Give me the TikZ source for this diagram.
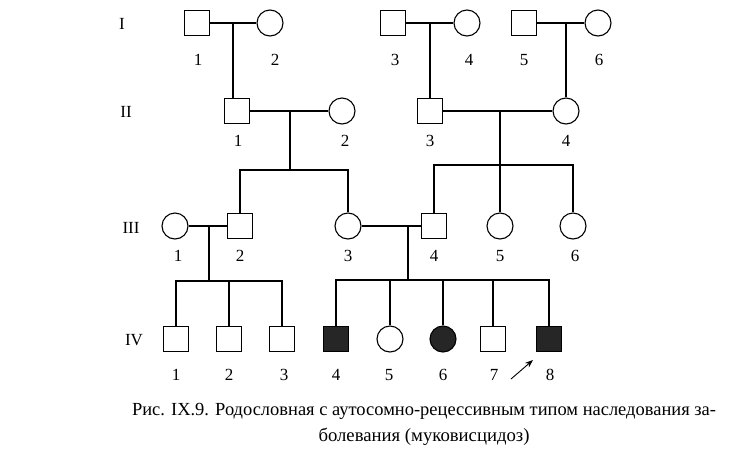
\documentclass[tikz,border=0pt]{standalone}
\usepackage{fontspec}
\usetikzlibrary{arrows.meta}
\setmainfont{Liberation Serif}
\begin{document}
\begin{tikzpicture}[x=1pt,y=-1pt,line width=1.1pt,
  m/.style={draw,minimum size=25pt,inner sep=0pt},
  f/.style={draw,circle,minimum size=26pt,inner sep=0pt},
  a/.style={fill=black!85},
  lb/.style={font=\fontsize{17}{17}\selectfont,inner sep=0pt},
  gl/.style={font=\fontsize{17}{17}\selectfont,inner sep=0pt}]
\useasboundingbox[fill=white] (0,0) rectangle (736,456);
% generation labels
\node[gl] (gI) at (122,24) {I};
\node[gl] (gII) at (126,112) {II};
\node[gl] (gIII) at (131,228) {III};
\node[gl] (gIV) at (134,340) {IV};
% Gen I
\node[m] (i1) at (197,23) {}; \node[f] (i2) at (270,23) {};
\node[m] (i3) at (393,23) {}; \node[f] (i4) at (467,23) {};
\node[m] (i5) at (524,23) {}; \node[f] (i6) at (598,23) {};
\foreach \n/\x in {1/198,2/275,3/395,4/469,5/524,6/599}
  \node[lb] (li\n) at (\x,60) {\n};
% Gen II
\node[m] (ii1) at (237,111) {}; \node[f] (ii2) at (342,111) {};
\node[m] (ii3) at (430,111) {}; \node[f] (ii4) at (566,111) {};
\node[lb] (lii1) at (238,141) {1}; \node[lb] (lii2) at (345,141) {2};
\node[lb] (lii3) at (430,141) {3}; \node[lb] (lii4) at (566,141) {4};
% Gen III
\node[f] (iii1) at (175,226) {}; \node[m] (iii2) at (240,226) {};
\node[f] (iii3) at (348,226) {}; \node[m] (iii4) at (434,226) {};
\node[f] (iii5) at (500,226) {}; \node[f] (iii6) at (573,226) {};
\foreach \n/\x in {1/178,2/240,3/348,4/434,5/500,6/575}
  \node[lb] (liii\n) at (\x,256) {\n};
% Gen IV
\node[m] (iv1) at (176,339) {}; \node[m] (iv2) at (229,339) {};
\node[m] (iv3) at (282,339) {}; \node[m,a] (iv4) at (336,339) {};
\node[f] (iv5) at (390,339) {}; \node[f,a] (iv6) at (443,339) {};
\node[m] (iv7) at (493,339) {}; \node[m,a] (iv8) at (549,339) {};
\foreach \n/\x in {1/176,2/229,3/284,4/336,5/389,6/443,7/494,8/550}
  \node[lb] (liv\n) at (\x,375) {\n};
% matings and lines
\coordinate (c1) at (233,23); \coordinate (c2) at (430,23); \coordinate (c3) at (566,23);
\draw (i1) -- (i2); \draw (i3) -- (i4); \draw (i5) -- (i6);
\draw (c1) -- (ii1.north -| c1); \draw (c2) -- (ii3); \draw (c3) -- (ii4);
\coordinate (d1) at (290,111); \coordinate (s1) at (290,170);
\draw (ii1) -- (ii2); \draw (d1) -- (s1);
\draw (iii2) |- (s1) -| (iii3);
\coordinate (d2) at (500,111); \coordinate (s2) at (500,165);
\draw (ii3) -- (ii4); \draw (d2) -- (s2);
\draw (iii4) |- (s2) -| (iii6); \draw (s2) -- (iii5);
\coordinate (d3) at (209,226); \coordinate (s3) at (209,281);
\draw (iii1) -- (iii2); \draw (d3) -- (s3);
\draw (iv1) |- (s3) -| (iv3); \draw (iv2) -- (iv2 |- s3);
\coordinate (d4) at (408,226); \coordinate (s4) at (408,280);
\draw (iii3) -- (iii4); \draw (d4) -- (s4);
\draw (iv4) |- (s4) -| (iv8);
\foreach \k in {5,6,7} \draw (iv\k) -- (iv\k |- s4);
% proband arrow
\coordinate (p0) at (511,379);
\draw[line width=0.9pt,-{Stealth[length=8pt]}] (p0) -- (533,360);
% caption
\node[inner sep=0pt] (cap1) at (424,411) {\resizebox{584pt}{!}{\fontsize{18}{18}\selectfont Рис. IX.9. Родословная с аутосомно-рецессивным типом наследования за-}};
\node[inner sep=0pt] (cap2) at (424,437) {\resizebox{211pt}{!}{\fontsize{18}{18}\selectfont болевания (муковисцидоз)}};
\end{tikzpicture}
\end{document}
